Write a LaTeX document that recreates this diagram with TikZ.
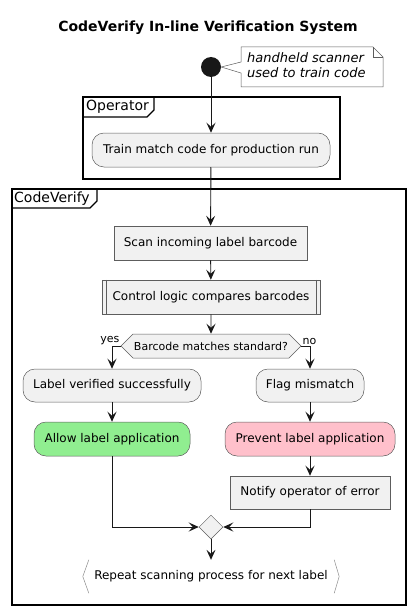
\documentclass[tikz,border=0pt]{standalone}
\usepackage{fontspec}
\setmainfont{DejaVu Sans}
\usetikzlibrary{arrows.meta}
\usetikzlibrary{shapes.geometric,shapes.symbols}
\definecolor{actbg}{HTML}{F1F1F1}
\definecolor{edge}{HTML}{181818}
\definecolor{okgreen}{HTML}{90EE90}
\definecolor{badpink}{HTML}{FFC0CB}

\begin{document}
\begin{tikzpicture}[x=1pt,y=-1pt,
        arr/.style={draw=edge, line width=0.9pt, -{Stealth[length=10pt,width=9pt,inset=4pt]}},
        ln/.style={draw=edge, line width=0.9pt},
        act/.style={draw=edge!70, line width=0.5pt, fill=actbg, rounded corners=12pt, minimum height=34pt, font=\fontsize{12}{14}\selectfont},
        box/.style={draw=edge!70, line width=0.5pt, fill=actbg, minimum height=34pt, font=\fontsize{12}{14}\selectfont},
        grp/.style={draw=black, line width=1.4pt},
        grptitle/.style={anchor=west, inner sep=0pt, font=\fontsize{14}{16}\selectfont}]
        \useasboundingbox (0,0) rectangle (416,615);
        \node[font=\fontsize{14}{16}\selectfont\bfseries] (title) at (208,28) {CodeVerify In-line Verification System};
        \node[circle, fill=edge, minimum size=20pt, inner sep=0pt] (start) at (211,67) {};
        \draw[draw=edge!70, line width=0.5pt, fill=white] (241,47) -- (373,47) -- (383,57) -- (383,87) -- (241,87) -- (241,73) -- (start.east) -- (241,62) -- cycle;
        \draw[draw=edge!70, line width=0.5pt] (373,47) -- (373,57) -- (383,57);
        \node[anchor=north west, align=left, inner sep=0pt, font=\fontsize{13}{15}\selectfont\itshape] (note) at (247,52) {handheld scanner\\used to train code};

        \draw[grp] (83,97) rectangle (340,179);
        \draw[grp] (83,117) -- (147,117) -- (154,110) -- (154,97);
        \node[grptitle] (opname) at (86,107) {Operator};
        \node[act, minimum width=238pt] (train) at (211,150) {Train match code for production run};

        \draw[grp] (12,189) rectangle (406,605);
        \draw[grp] (12,208) -- (90,208) -- (97,201) -- (97,189);
        \node[grptitle] (cvname) at (14,198.5) {CodeVerify};
        \node[box, minimum width=193pt] (scan) at (210.5,243) {Scan incoming label barcode};
        \node[box, minimum width=218pt] (ctrl) at (211,297) {Control logic compares barcodes};
        \draw[draw=edge!70, line width=0.5pt] ([xshift=4.5pt]ctrl.north west) -- ([xshift=4.5pt]ctrl.south west);
        \draw[draw=edge!70, line width=0.5pt] ([xshift=-4.5pt]ctrl.north east) -- ([xshift=-4.5pt]ctrl.south east);
        \node[signal, signal to=west and east, draw=edge!70, line width=0.5pt, fill=actbg, minimum width=180pt, minimum height=24pt, inner sep=0pt, font=\fontsize{11}{13}\selectfont] (dec) at (211,346) {Barcode matches standard?};
        \node[act, minimum width=178pt, minimum height=33pt] (verif) at (112,385.5) {Label verified successfully};
        \node[act, minimum width=108pt, minimum height=33pt] (flag) at (310,385.5) {Flag mismatch};
        \node[act, fill=okgreen, minimum width=156pt] (allow) at (112,439) {Allow label application};
        \node[act, fill=badpink, minimum width=170pt] (prevent) at (310,439) {Prevent label application};
        \node[box, minimum width=160pt, minimum height=33pt] (notify) at (310,492.5) {Notify operator of error};
        \node[diamond, draw=edge!70, line width=0.5pt, fill=actbg, minimum width=24pt, minimum height=24pt, inner sep=0pt] (merge) at (211,527) {};
        \node[minimum width=256pt, minimum height=33pt, font=\fontsize{12}{14}\selectfont] (repeat) at (211,576.5) {Repeat scanning process for next label};
        \draw[draw=edge!50, line width=0.5pt] ([xshift=6pt]repeat.north west) -- (repeat.west) -- ([xshift=6pt]repeat.south west);
        \draw[draw=edge!50, line width=0.5pt] ([xshift=-5pt]repeat.north east) -- (repeat.east) -- ([xshift=-5pt]repeat.south east);

        \draw[arr] (start) -- (train);
        \draw[arr] (train) -- (scan);
        \draw[arr] (scan) -- (ctrl);
        \draw[arr] (ctrl) -- (dec);
        \draw[arr] (dec.west) -| (verif);
        \draw[arr] (dec.east) -| (flag);
        \node[anchor=south east, inner sep=1pt, font=\fontsize{11}{13}\selectfont] (yes) at (dec.west) {yes};
        \node[anchor=south west, inner sep=1pt, font=\fontsize{11}{13}\selectfont] (no) at (dec.east) {no};
        \draw[arr] (verif) -- (allow);
        \draw[arr] (flag) -- (prevent);
        \draw[arr] (prevent) -- (notify);
        \draw[arr] (allow) |- (merge);
        \draw[arr] (notify) |- (merge);
        \draw[arr] (merge) -- (repeat);
    \end{tikzpicture}
\end{document}
